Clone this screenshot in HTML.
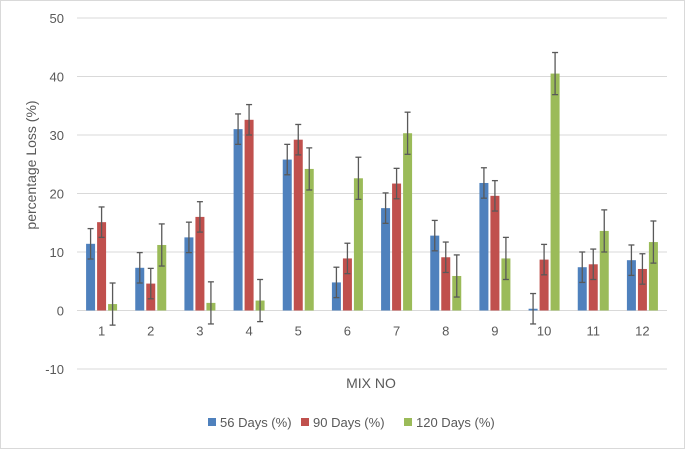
<!DOCTYPE html>
<html><head><meta charset="utf-8"><style>
body{margin:0;background:#fff;}
svg{display:block;font-family:"Liberation Sans",sans-serif;}
</style></head><body>
<svg id="chart" width="685" height="449">
<rect x="0.5" y="0.5" width="684" height="448" fill="#fff" stroke="#d9d9d9"/>
<g id="grid"></g><g id="bars"></g><g id="labels"></g>
<text x="36" y="165" transform="rotate(-90 36 165)" text-anchor="middle" font-size="14" fill="#595959">percentage Loss (%)</text>
<text x="371" y="388" text-anchor="middle" font-size="14" fill="#595959">MIX NO</text>
<g id="legend"></g>
</svg>
<script>
const categories=["1","2","3","4","5","6","7","8","9","10","11","12"];
const seriesNames=["56 Days (%)","90 Days (%)","120 Days (%)"];
const s56=[11.4,7.3,12.5,31.0,25.8,4.8,17.5,12.8,21.8,0.3,7.4,8.6];
const s90=[15.1,4.6,16.0,32.6,29.2,8.9,21.7,9.1,19.6,8.7,7.9,7.1];
const s120=[1.1,11.2,1.3,1.7,24.2,22.6,30.3,5.9,8.9,40.5,13.6,11.7];
const err56=[2.6,2.6,2.6,2.6,2.6,2.6,2.6,2.6,2.6,2.6,2.6,2.6];
const err90=[2.6,2.6,2.6,2.6,2.6,2.6,2.6,2.6,2.6,2.6,2.6,2.6];
const err120=[3.6,3.6,3.6,3.6,3.6,3.6,3.6,3.6,3.6,3.6,3.6,3.6];
const yTicks=[-10,0,10,20,30,40,50];
const colors=["#4f81bd","#c0504d","#9bbb59"];
const NS="http://www.w3.org/2000/svg";
const L=77,R=667,T=18,B=369,yMin=-10,yMax=50;
const y=v=>B-(v-yMin)/(yMax-yMin)*(B-T);
const step=(R-L)/categories.length;
const xc=i=>L+step*(i+0.5);
function mk(tag,attrs,parent){const e=document.createElementNS(NS,tag);for(const k in attrs)e.setAttribute(k,attrs[k]);parent.appendChild(e);return e;}
const grid=document.getElementById('grid'),bars=document.getElementById('bars'),labels=document.getElementById('labels'),legend=document.getElementById('legend');
yTicks.forEach(t=>{
  const ln=mk('line',{x1:L,x2:R,y1:y(t),y2:y(t),stroke:'#d9d9d9','stroke-width':1},grid);
  
  
  const tx=mk('text',{x:64,y:y(t)+5,'text-anchor':'end','font-size':13,fill:'#595959'},labels);
  tx.textContent=t;
  
  
});
const data=[s56,s90,s120],errs=[err56,err90,err120];
const bw=9,gap=11;
categories.forEach((c,i)=>{
  const tx=mk('text',{x:xc(i),y:y(0)+25,'text-anchor':'middle','font-size':13,fill:'#595959'},labels);
  tx.textContent=c;
  
  
  data.forEach((s,j)=>{
    const cx=xc(i)+(j-1)*gap;
    const v=s[i];
    const r=mk('rect',{x:cx-bw/2,y:Math.min(y(v),y(0)),width:bw,height:Math.abs(y(0)-y(v)),fill:colors[j]},bars);
    
    
    const e=errs[j][i];
    const g=mk('g',{stroke:'#595959','stroke-width':1.3},bars);
    
    
    mk('line',{x1:cx,x2:cx,y1:y(v+e),y2:y(v-e)},g);
    mk('line',{x1:cx-3,x2:cx+3,y1:y(v+e),y2:y(v+e)},g);
    mk('line',{x1:cx-3,x2:cx+3,y1:y(v-e),y2:y(v-e)},g);
  });
});
const lx=[208,301,404];
seriesNames.forEach((n,j)=>{
  const g=mk('g',{},legend);
  
  
  mk('rect',{x:lx[j],y:418,width:8,height:8,fill:colors[j]},g);
  const t=mk('text',{x:lx[j]+12,y:427,'font-size':13,fill:'#595959'},g);
  t.textContent=n;
});
</script>
</body></html>
